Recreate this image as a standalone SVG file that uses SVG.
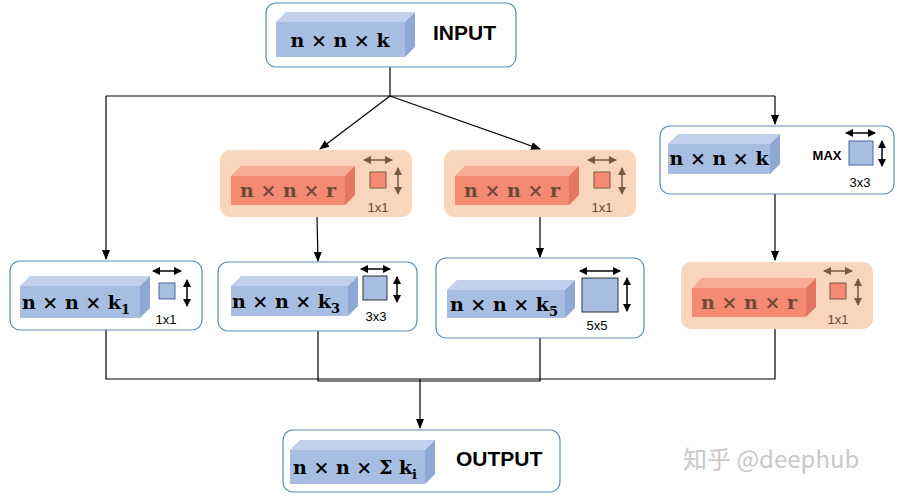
<svg xmlns="http://www.w3.org/2000/svg" width="905" height="498" viewBox="0 0 905 498">
<defs>
<marker id="ah" markerWidth="10" markerHeight="10" refX="9" refY="5" orient="auto" markerUnits="userSpaceOnUse"><path d="M0,1 L10,5 L0,9 Z" fill="#000"/></marker>
<marker id="ab" markerWidth="8" markerHeight="8" refX="7" refY="4" orient="auto-start-reverse" markerUnits="userSpaceOnUse"><path d="M0,0 L8,4 L0,8 Z" fill="#000"/></marker>
<marker id="ao" markerWidth="8" markerHeight="8" refX="7" refY="4" orient="auto-start-reverse" markerUnits="userSpaceOnUse"><path d="M0,0 L8,4 L0,8 Z" fill="#7a5a40"/></marker>
</defs>
<style>
.wb{fill:#fff;stroke:#5a8fae;stroke-width:1.2}
.ob{fill:#f8d5bb}
.bf{fill:#a7bde2}.bt{fill:#c1d0ec}.bs{fill:#8fa7d4}
.rf{fill:#f48a73}.rt{fill:#f7aa95}.rs{fill:#e47560}
.m{font-family:"DejaVu Serif","Liberation Serif",serif;font-weight:bold;font-size:19px;text-anchor:middle}
.lbl{font-family:"Liberation Sans",Arial,sans-serif;font-size:13px;text-anchor:middle}
.big{font-family:"Liberation Sans",Arial,sans-serif;font-size:21px;font-weight:bold}
.c{stroke:#000;stroke-width:1.2;fill:none}
.ar{stroke:#000;stroke-width:1.5;marker-start:url(#ab);marker-end:url(#ab)}
.aro{stroke:#7a5a40;stroke-width:1.5;marker-start:url(#ao);marker-end:url(#ao)}
</style>
<g id="connectors">
<path class="c" d="M390,67 V96 M106,96 H775"/>
<path class="c" d="M106,96 V259" marker-end="url(#ah)"/>
<path class="c" d="M775,96 V124" marker-end="url(#ah)"/>
<path class="c" d="M390,96 L320,149" marker-end="url(#ah)"/>
<path class="c" d="M390,96 L540,149" marker-end="url(#ah)"/>
<path class="c" d="M317,217 L318,261" marker-end="url(#ah)"/>
<path class="c" d="M540,217 V257" marker-end="url(#ah)"/>
<path class="c" d="M775,194 V260" marker-end="url(#ah)"/>
<path class="c" d="M106,330 V379 H775 V329 M318,331 V381 H540 V338"/>
<path class="c" d="M420,379 V428" stroke-width="2" marker-end="url(#ah)"/>
</g>
<g id="input">
<rect class="wb" x="266" y="3" width="250" height="64" rx="10"/>
<polygon class="bt" points="276,22 286,12 415,12 405,22"/><polygon class="bs" points="405,22 415,12 415,47 405,57"/><rect class="bf" x="276" y="22" width="129" height="35"/>
<text class="m" x="340" y="47">n × n × k</text>
<text class="big" x="433" y="40">INPUT</text>
</g>
<g id="red1">
<rect class="ob" x="220" y="150" width="192" height="67" rx="10"/>
<polygon class="rt" points="231,176 241,166 355,166 345,176"/><polygon class="rs" points="345,176 355,166 355,195 345,205"/><rect class="rf" x="231" y="176" width="114" height="29"/>
<text class="m" x="288" y="197" fill="#6b4a35">n × n × r</text>
<rect x="370" y="172" width="16" height="16" fill="#f48a73" stroke="#7a5a40"/>
<line class="aro" x1="364" y1="160" x2="392" y2="160"/><line class="aro" x1="398" y1="168" x2="398" y2="194"/>
<text class="lbl" x="378" y="212" fill="#6b4a35">1x1</text>
</g>
<g id="red2">
<rect class="ob" x="444" y="150" width="192" height="67" rx="10"/>
<polygon class="rt" points="455,176 465,166 579,166 569,176"/><polygon class="rs" points="569,176 579,166 579,195 569,205"/><rect class="rf" x="455" y="176" width="114" height="29"/>
<text class="m" x="512" y="197" fill="#6b4a35">n × n × r</text>
<rect x="594" y="172" width="16" height="16" fill="#f48a73" stroke="#7a5a40"/>
<line class="aro" x1="588" y1="160" x2="616" y2="160"/><line class="aro" x1="622" y1="168" x2="622" y2="194"/>
<text class="lbl" x="602" y="212" fill="#6b4a35">1x1</text>
</g>
<g id="pool">
<rect class="wb" x="660" y="126" width="234" height="68" rx="10"/>
<polygon class="bt" points="668,144 678,134 780,134 770,144"/><polygon class="bs" points="770,144 780,134 780,164 770,174"/><rect class="bf" x="668" y="144" width="102" height="30"/>
<text class="m" x="719" y="165">n × n × k</text>
<text class="lbl" x="827" y="160" font-weight="bold" font-size="14">MAX</text>
<rect x="849" y="141" width="24" height="24" fill="#a7bde2" stroke="#4a6a9a"/>
<line class="ar" x1="846" y1="133" x2="875" y2="133"/><line class="ar" x1="882" y1="141" x2="882" y2="166"/>
<text class="lbl" x="860" y="187">3x3</text>
</g>
<g id="red3">
<rect class="ob" x="681" y="262" width="192" height="67" rx="10"/>
<polygon class="rt" points="692,288 702,278 816,278 806,288"/><polygon class="rs" points="806,288 816,278 816,307 806,317"/><rect class="rf" x="692" y="288" width="114" height="29"/>
<text class="m" x="749" y="309" fill="#6b4a35">n × n × r</text>
<rect x="830" y="283" width="16" height="16" fill="#f48a73" stroke="#7a5a40"/>
<line class="aro" x1="824" y1="271" x2="852" y2="271"/><line class="aro" x1="858" y1="279" x2="858" y2="305"/>
<text class="lbl" x="838" y="324" fill="#6b4a35">1x1</text>
</g>
<g id="conv1">
<rect class="wb" x="10" y="261" width="192" height="69" rx="10"/>
<polygon class="bt" points="20,286 30,276 150,276 140,286"/><polygon class="bs" points="140,286 150,276 150,308 140,318"/><rect class="bf" x="20" y="286" width="120" height="32"/>
<text class="m" x="76" y="309">n × n × k<tspan font-size="13" dy="5">1</tspan></text>
<rect x="159" y="283" width="16" height="16" fill="#a7bde2" stroke="#4a6a9a"/>
<line class="ar" x1="153" y1="271" x2="181" y2="271"/><line class="ar" x1="187" y1="280" x2="187" y2="306"/>
<text class="lbl" x="166" y="324">1x1</text>
</g>
<g id="conv3">
<rect class="wb" x="218" y="262" width="199" height="69" rx="10"/>
<polygon class="bt" points="231,286 241,276 358,276 348,286"/><polygon class="bs" points="348,286 358,276 358,306 348,316"/><rect class="bf" x="231" y="286" width="117" height="30"/>
<text class="m" x="286" y="308">n × n × k<tspan font-size="13" dy="5">3</tspan></text>
<rect x="363" y="276" width="24" height="24" fill="#a7bde2" stroke="#333"/>
<line class="ar" x1="361" y1="269" x2="390" y2="269"/><line class="ar" x1="397" y1="277" x2="397" y2="302"/>
<text class="lbl" x="376" y="321">3x3</text>
</g>
<g id="conv5">
<rect class="wb" x="436" y="258" width="208" height="80" rx="10"/>
<polygon class="bt" points="447,290 457,280 575,280 565,290"/><polygon class="bs" points="565,290 575,280 575,308 565,318"/><rect class="bf" x="447" y="290" width="118" height="28"/>
<text class="m" x="504" y="311">n × n × k<tspan font-size="13" dy="5">5</tspan></text>
<rect x="582" y="278" width="36" height="34" fill="#a7bde2" stroke="#333"/>
<line class="ar" x1="580" y1="271" x2="620" y2="271"/><line class="ar" x1="627" y1="278" x2="627" y2="311"/>
<text class="lbl" x="597" y="330">5x5</text>
</g>
<g id="output">
<rect class="wb" x="283" y="430" width="277" height="62" rx="10"/>
<polygon class="bt" points="290,450 300,440 435,440 425,450"/><polygon class="bs" points="425,450 435,440 435,474 425,484"/><rect class="bf" x="290" y="450" width="135" height="34"/>
<text class="m" x="355" y="474">n × n × Σ k<tspan font-size="13" dy="5">i</tspan></text>
<text class="big" x="456" y="466">OUTPUT</text>
</g>
<text x="683" y="468" font-family="'Noto Sans CJK SC','Liberation Sans',sans-serif" font-size="24" fill="#c8c8c8">知乎 @deephub</text>
</svg>
